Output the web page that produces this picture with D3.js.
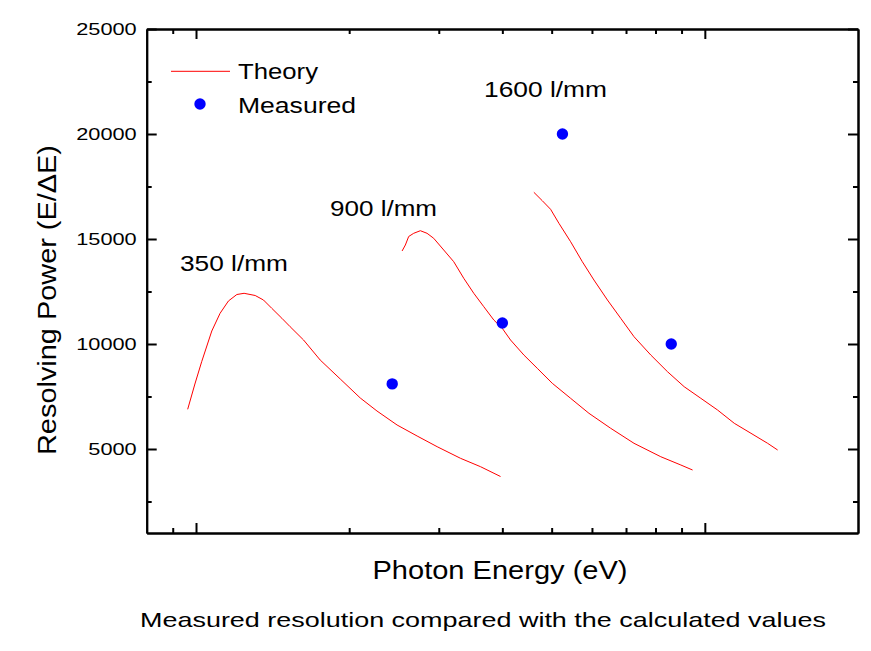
<!DOCTYPE html>
<html><head><meta charset="utf-8">
<script src="https://cdn.jsdelivr.net/npm/d3@7"></script>
<style>body{margin:0;background:#fff}svg{display:block}text{font-family:"Liberation Sans",Arial,sans-serif;fill:#000}</style>
</head><body><svg id="c" width="871" height="651"></svg>
<script>
// Theory curves (Photon energy eV, resolving power)
const theory350 = [[96.3,6890],[99.5,8095],[102.6,9157],[107.4,10619],[111.5,11462],[115.8,12048],[120.3,12357],[124.3,12414],[130.7,12310],[135.7,12095],[140.9,11700],[147.5,11224],[153.1,10824],[162.7,10190],[175.4,9238],[192.1,8333],[210.3,7429],[226.8,6810],[248.4,6143],[272.0,5619],[297.8,5110],[331.0,4557],[362.4,4157],[396.7,3690]];
const theory900 = [[254.1,14429],[257.9,14714],[261.8,15119],[267.8,15271],[276.0,15395],[284.5,15271],[293.2,15033],[306.8,14476],[321.0,13919],[335.9,13129],[351.5,12414],[367.8,11776],[384.8,11143],[399.8,10748],[415.1,10190],[440.9,9476],[468.5,8843],[501.4,8129],[544.8,7414],[591.9,6700],[653.1,5986],[725.8,5271],[819.2,4633],[897.2,4238],[946.0,4000]];
const theory1600 = [[461.3,17224],[479.2,16824],[497.6,16414],[516.7,15748],[544.8,14871],[574.4,13919],[605.4,13048],[643.6,12095],[683.4,11224],[725.8,10348],[783.0,9476],[844.5,8681],[910.7,7967],[982.0,7414],[1059.3,6857],[1142.5,6224],[1232.2,5748],[1328.6,5271],[1390.2,4952]];
const measuredE = [243, 400, 525, 859];
const measuredR = [8100, 11000, 20000, 10000];
const gratingLabels = ["350 l/mm", "900 l/mm", "1600 l/mm"];
const yTicks = [5000, 10000, 15000, 20000, 25000];
const yMinor = [2500, 7500, 12500, 17500, 22500];
const xMajor = [100, 1000];
const xMinor = [90, 200, 300, 400, 500, 600, 700, 800, 900];
const legendLabels = ["Theory", "Measured"];

const svg = d3.select("#c");
const L = 146.7, R = 858, T = 29, B = 533;
const x = d3.scaleLog().domain([80, 2000]).range([L, R]);
const y = d3.scaleLinear().domain([1000, 25000]).range([B, T]);

function styleAxis(g){
  g.select(".domain").attr("stroke","#000").attr("stroke-width",2);
  g.selectAll(".tick line").attr("stroke","#000").attr("stroke-width",2);
}
// bottom
svg.append("g").attr("transform",`translate(0,${B})`).call(d3.axisBottom(x).tickValues(xMinor).tickSize(-5).tickSizeOuter(0).tickFormat("")).call(styleAxis);
svg.append("g").attr("transform",`translate(0,${B})`).call(d3.axisBottom(x).tickValues(xMajor).tickSize(-10).tickSizeOuter(0).tickFormat("")).call(styleAxis);
// top
svg.append("g").attr("transform",`translate(0,${T})`).call(d3.axisTop(x).tickValues(xMinor).tickSize(-5).tickSizeOuter(0).tickFormat("")).call(styleAxis);
svg.append("g").attr("transform",`translate(0,${T})`).call(d3.axisTop(x).tickValues(xMajor).tickSize(-10).tickSizeOuter(0).tickFormat("")).call(styleAxis);
// left
svg.append("g").attr("transform",`translate(${L},0)`).call(d3.axisLeft(y).tickValues(yMinor).tickSize(-5).tickSizeOuter(0).tickFormat("")).call(styleAxis);
const ya = svg.append("g").attr("transform",`translate(${L},0)`).call(d3.axisLeft(y).tickValues(yTicks).tickSize(-10).tickSizeOuter(0).tickPadding(10).tickFormat(d3.format("d"))).call(styleAxis);
ya.selectAll(".tick text").attr("font-size",16.5).attr("font-family",'"Liberation Sans",Arial,sans-serif').attr("fill","#000")
  .attr("textLength", d => String(d).length*12.1).attr("lengthAdjust","spacingAndGlyphs");
// right
svg.append("g").attr("transform",`translate(${R},0)`).call(d3.axisRight(y).tickValues(yMinor).tickSize(-5).tickSizeOuter(0).tickFormat("")).call(styleAxis);
svg.append("g").attr("transform",`translate(${R},0)`).call(d3.axisRight(y).tickValues(yTicks).tickSize(-10).tickSizeOuter(0).tickFormat("")).call(styleAxis);

// curves
const line = d3.line().x(d => x(d[0])).y(d => y(d[1]));
[theory350, theory900, theory1600].forEach(s => {
  svg.append("path").datum(s).attr("d", line).attr("fill","none").attr("stroke","#ff0000").attr("stroke-width",1);
});
// measured
svg.selectAll("circle.m").data(measuredE).enter().append("circle").attr("class","m")
  .attr("cx", d => x(d)).attr("cy", (d,i) => y(measuredR[i])).attr("r",5.7).attr("fill","#0000ff");

function txt(s, xx, yy, fs, len, anchor){
  return svg.append("text").attr("x",xx).attr("y",yy).attr("font-size",fs).attr("text-anchor",anchor||"start")
    .attr("textLength",len).attr("lengthAdjust","spacingAndGlyphs").text(s);
}
// legend
svg.append("line").attr("x1",171).attr("x2",230).attr("y1",71.3).attr("y2",71.3).attr("stroke","#ff0000").attr("stroke-width",1);
svg.append("circle").attr("cx",200).attr("cy",104).attr("r",5.7).attr("fill","#0000ff");
txt(legendLabels[0], 238, 79, 22, 80);
txt(legendLabels[1], 238, 113, 22, 118);
// grating labels
txt(gratingLabels[0], 180, 271, 22.5, 108);
txt(gratingLabels[1], 330, 216, 22.5, 107);
txt(gratingLabels[2], 484, 97, 22.5, 123);
// axis titles
txt("Photon Energy (eV)", 500, 579, 26, 255, "middle");
svg.append("text").attr("transform","translate(56,300) rotate(-90)").attr("text-anchor","middle").attr("font-size",26)
  .attr("textLength",310).attr("lengthAdjust","spacingAndGlyphs").text("Resolving Power (E/\u0394E)");
txt("Measured resolution compared with the calculated values", 483, 627, 21, 686, "middle");
</script></body></html>
